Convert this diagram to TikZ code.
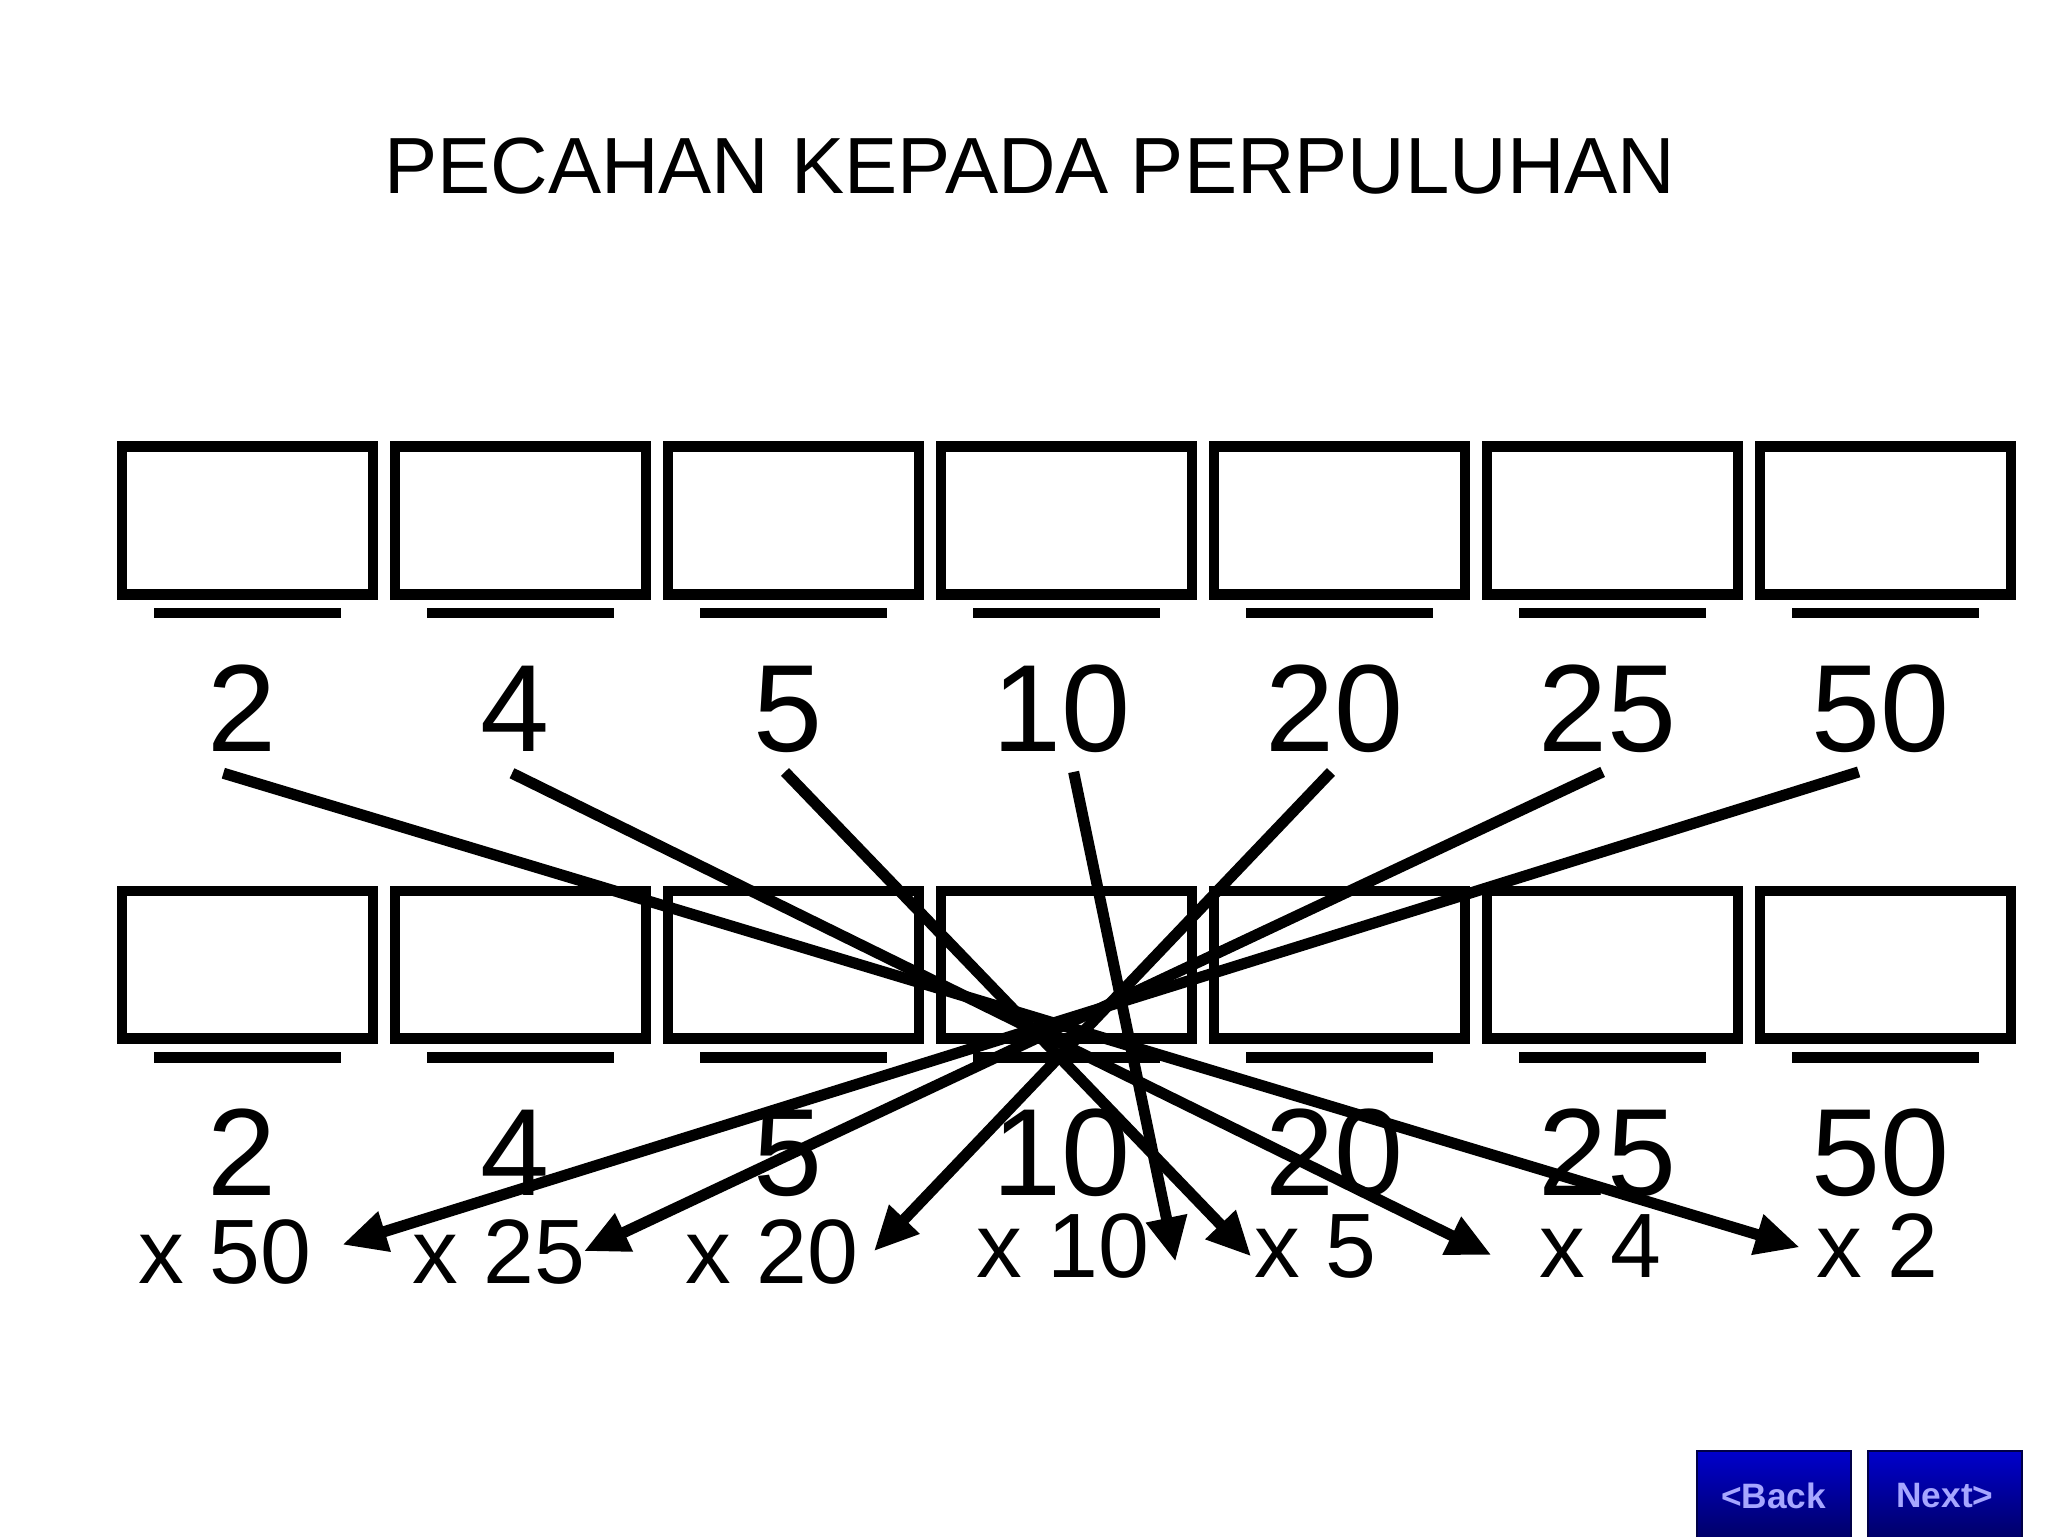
\documentclass[tikz,border=0pt]{standalone}
\usepackage{fontspec}
\setmainfont{Liberation Sans}
\usetikzlibrary{arrows.meta}
\colorlet{myblue}{blue!80!black}
\colorlet{mylilac}{blue!35!white}

\begin{document}
\begin{tikzpicture}[x=1pt,y=-1pt]
\useasboundingbox (0,0) rectangle (1568,1176);
\node[anchor=base] (title) at (788.5,148) {\fontsize{61}{61}\selectfont PECAHAN KEPADA PERPULUHAN};
\tikzset{BoxStyle/.style ={draw, line width=8pt, minimum width=192pt, minimum height=113pt, inner sep=0}}
\node[BoxStyle] (a1) at (189.5,398.5) {};
\node[BoxStyle] (a2) at (398.5,398.5) {};
\node[BoxStyle] (a3) at (607.5,398.5) {};
\node[BoxStyle] (a4) at (816.5,398.5) {};
\node[BoxStyle] (a5) at (1025.5,398.5) {};
\node[BoxStyle] (a6) at (1234.5,398.5) {};
\node[BoxStyle] (a7) at (1443.5,398.5) {};
\node[BoxStyle] (b1) at (189.5,738.5) {};
\node[BoxStyle] (b2) at (398.5,738.5) {};
\node[BoxStyle] (b3) at (607.5,738.5) {};
\node[BoxStyle] (b4) at (816.5,738.5) {};
\node[BoxStyle] (b5) at (1025.5,738.5) {};
\node[BoxStyle] (b6) at (1234.5,738.5) {};
\node[BoxStyle] (b7) at (1443.5,738.5) {};
\tikzset{BarStyle/.style ={fill, minimum width=143pt, minimum height=8pt, inner sep=0}}
\node[BarStyle] (p1) at (189.5,469.5) {};
\node[BarStyle] (p2) at (398.5,469.5) {};
\node[BarStyle] (p3) at (607.5,469.5) {};
\node[BarStyle] (p4) at (816.5,469.5) {};
\node[BarStyle] (p5) at (1025.5,469.5) {};
\node[BarStyle] (p6) at (1234.5,469.5) {};
\node[BarStyle] (p7) at (1443.5,469.5) {};
\node[BarStyle] (q1) at (189.5,809.5) {};
\node[BarStyle] (q2) at (398.5,809.5) {};
\node[BarStyle] (q3) at (607.5,809.5) {};
\node[BarStyle] (q4) at (816.5,809.5) {};
\node[BarStyle] (q5) at (1025.5,809.5) {};
\node[BarStyle] (q6) at (1234.5,809.5) {};
\node[BarStyle] (q7) at (1443.5,809.5) {};
\tikzset{NumStyle/.style ={anchor=base, inner sep=0, font=\fontsize{95}{95}\selectfont}}
\node[NumStyle] (t2) at (185.5,575) {2};
\node[NumStyle] (t4) at (394.5,575) {4};
\node[NumStyle] (t5) at (603.5,575) {5};
\node[NumStyle] (t10) at (812.5,575) {10};
\node[NumStyle] (t20) at (1021.5,575) {20};
\node[NumStyle] (t25) at (1230.5,575) {25};
\node[NumStyle] (t50) at (1439.5,575) {50};
\node[NumStyle] (u2) at (185.5,915) {2};
\node[NumStyle] (u4) at (394.5,915) {4};
\node[NumStyle] (u5) at (603.5,915) {5};
\node[NumStyle] (u10) at (812.5,915) {10};
\node[NumStyle] (u20) at (1021.5,915) {20};
\node[NumStyle] (u25) at (1230.5,915) {25};
\node[NumStyle] (u50) at (1439.5,915) {50};
\tikzset{TimesStyle/.style ={anchor=base, inner sep=0, font=\fontsize{70}{70}\selectfont}}
\node[TimesStyle] (x50) at (172.5,983) {x 50};
\node[TimesStyle] (x25) at (382,983) {x 25};
\node[TimesStyle] (x20) at (591,983) {x 20};
\node[TimesStyle] (x10) at (814,978) {x 10};
\node[TimesStyle] (x5) at (1007.5,978) {x 5};
\node[TimesStyle] (x4) at (1225,978) {x 4};
\node[TimesStyle] (x2) at (1437.5,978) {x 2};
% arrow ends
\coordinate (s2) at (171,592);
\coordinate (s4) at (392,592);
\coordinate (s5) at (601,591);
\coordinate (s10) at (822,591);
\coordinate (s20) at (1019,591);
\coordinate (s25) at (1227,591);
\coordinate (s50) at (1423,591);
\coordinate (e2) at (1378,955);
\coordinate (e4) at (1142,961);
\coordinate (e5) at (958,962);
\coordinate (e10) at (900,966);
\coordinate (e20) at (669,958);
\coordinate (e25) at (447,958);
\coordinate (e50) at (262,953);
\tikzset{ArrowStyle/.style ={-{Triangle[length=34pt,width=30pt]}, line width=8.5pt}}
\draw[ArrowStyle] (s2) -- (e2);
\draw[ArrowStyle] (s4) -- (e4);
\draw[ArrowStyle] (s5) -- (e5);
\draw[ArrowStyle] (s10) -- (e10);
\draw[ArrowStyle] (s20) -- (e20);
\draw[ArrowStyle] (s25) -- (e25);
\draw[ArrowStyle] (s50) -- (e50);
% buttons
\tikzset{ButtonStyle/.style ={minimum width=118pt, minimum height=68pt, inner sep=0, top color=myblue, bottom color=myblue!50!black, draw=myblue!35!black, line width=1.5pt, text=mylilac, font=\fontsize{27}{27}\selectfont\bfseries}}
\node[ButtonStyle] (back) at (1358,1145) {<Back};
\node[ButtonStyle] (next) at (1489,1145) {Next>};
\end{tikzpicture}
\end{document}
